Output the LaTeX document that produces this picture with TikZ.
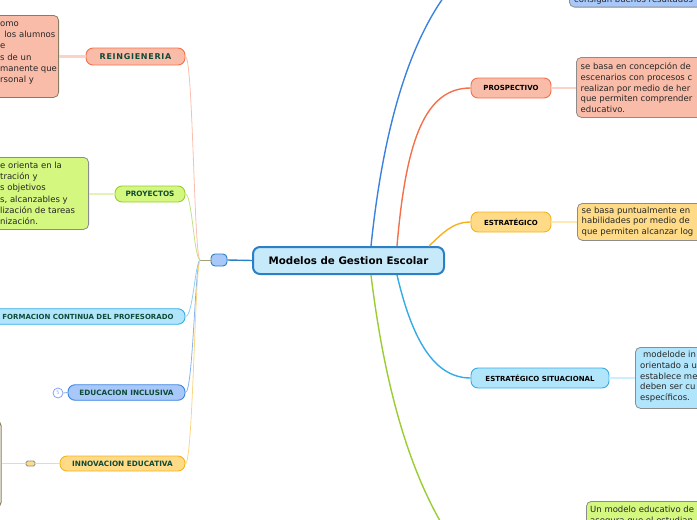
\documentclass[tikz,border=0pt]{standalone}
\usepackage{fontspec}
\setmainfont{DejaVu Sans}
\definecolor{salF}{HTML}{F9BCA9}\definecolor{salB}{HTML}{F4704A}\definecolor{salL}{HTML}{FBD3C6}
\definecolor{grnF}{HTML}{D3F77F}\definecolor{grnB}{HTML}{9ACD32}\definecolor{grnL}{HTML}{E2F3B8}
\definecolor{cyaF}{HTML}{B1E5FB}\definecolor{cyaB}{HTML}{35ABE6}\definecolor{cyaL}{HTML}{CDEFFC}
\definecolor{bluF}{HTML}{A7C8F8}\definecolor{bluB}{HTML}{3B82DE}
\definecolor{yelF}{HTML}{FFDB87}\definecolor{yelB}{HTML}{F7B21B}\definecolor{yelL}{HTML}{FFE9B5}
\definecolor{ctrF}{HTML}{C7EAFB}\definecolor{ctrB}{HTML}{2B7FC5}
\definecolor{boxB}{HTML}{8C8C8C}\definecolor{lblT}{HTML}{0F4A38}
\definecolor{brnB}{HTML}{8C7B55}\definecolor{junc}{HTML}{A0A070}
\begin{document}
\begin{tikzpicture}[x=1pt,y=-1pt,
  lbl/.style={rounded corners=7pt, draw, line width=0.9pt, inner sep=0pt, font=\fontsize{7}{8}\selectfont\bfseries},
  leftlbl/.style={lbl, text=lblT, font=\fontsize{7.3}{8}\selectfont\bfseries},
  rightlbl/.style={lbl, text=black},
  descbox/.style={rounded corners=5pt, draw=boxB, line width=0.8pt, minimum width=200pt, inner sep=0pt},
  desctext/.style={anchor=base west, align=left, inner sep=0pt, text=black!85, font=\fontsize{8.5}{10.8}\selectfont},
  lefttext/.style={desctext, font=\fontsize{8.5}{11.2}\selectfont},
  thin/.style={line width=0.8pt},
  thick/.style={line width=1.4pt},
  link/.style={line width=2.4pt}]
\useasboundingbox (0,0) rectangle (697,520);
\clip (0,0) rectangle (697,520);
% central
\node (ctr) [rounded corners=7pt, draw=ctrB, fill=ctrF, line width=2pt, minimum width=191pt, minimum height=27pt, inner sep=0pt, font=\fontsize{10.3}{12}\selectfont\bfseries] at (348.5,260.5) {Modelos de Gestion Escolar};
\node (pill) [rounded corners=4pt, draw=ctrB, fill=bluF, line width=0.9pt, minimum width=16pt, minimum height=12pt, inner sep=0pt] at (219,260) {};
\coordinate (jn) at (200,260);
% left labels
\node (rein) [leftlbl, draw=salB, fill=salF, minimum width=99pt, minimum height=17pt, font=\fontsize{8}{9}\selectfont\bfseries\addfontfeature{LetterSpace=9}] at (135.5,56.5) {REINGIENERIA};
\node (proy) [leftlbl, draw=grnB, fill=grnF, minimum width=70pt, minimum height=16pt] at (150,194) {PROYECTOS};
\node (form) [leftlbl, draw=cyaB, fill=cyaF, minimum width=194pt, minimum height=15.5pt, font=\fontsize{7}{8}\selectfont\bfseries] at (88,316.5) {FORMACION CONTINUA DEL PROFESORADO};
\node (educ) [leftlbl, draw=bluB, fill=bluF, minimum width=117pt, minimum height=15.5pt] at (126.5,392.5) {EDUCACION INCLUSIVA};
\node (inno) [leftlbl, draw=yelB, fill=yelF, minimum width=125pt, minimum height=15pt] at (122.5,463.5) {INNOVACION EDUCATIVA};
% right labels
\node (pros) [rightlbl, draw=salB, fill=salF, minimum width=80pt, minimum height=20pt] at (511,88) {PROSPECTIVO};
\node (estr) [rightlbl, draw=yelB, fill=yelF, minimum width=80pt, minimum height=20pt] at (511,222) {ESTRATÉGICO};
\node (situ) [rightlbl, draw=cyaB, fill=cyaF, minimum width=138pt, minimum height=20pt] at (540,378) {ESTRATÉGICO SITUACIONAL};
% description boxes, left
\node (reinbox) [descbox, fill=salF, draw=brnB!70!gray, anchor=north east, minimum width=160pt, minimum height=82pt] at (59,15) {};
\node (reintxt) [lefttext, anchor=base west] at (0,26.5) {omo};
\node (reintxtb) [lefttext, anchor=base east] at (55.5,37.7) {los alumnos};
\node (reintxtc) [lefttext] at (0,82.5) {e\\s de un\\manente que\\rsonal y};
\node (proybox) [descbox, fill=grnF, anchor=north east, minimum width=160pt, minimum height=72pt] at (89,157) {};
\node (proytxt) [lefttext] at (0,224.5) {e orienta en la\\tración y\\s objetivos\\s, alcanzables y\\lización de tareas\\nización.};
\node (innobox) [rounded corners=5pt, draw=brnB, line width=1pt, anchor=north east, minimum width=160pt, minimum height=87pt, inner sep=0pt] at (1.5,420) {};
\node (innopill) [rounded corners=1.5pt, draw=boxB, fill=yelF, line width=0.8pt, minimum width=9pt, minimum height=5pt, inner sep=0pt] at (30.5,463.5) {};
\node (educnum) [circle, draw=bluF!80!blue, fill=white, line width=0.8pt, minimum size=10pt, inner sep=0pt, text=bluB!60, font=\fontsize{5}{5}\selectfont] at (58,393) {5};
% description boxes, right
\node (prosbox) [descbox, fill=salF, anchor=north west, minimum height=60pt] at (576,57) {};
\node (prostxt) [desctext] at (580.5,112.7) {se basa en concepción de\\escenarios con procesos c\\realizan por medio de her\\que permiten comprender\\educativo.};
\node (estrbox) [descbox, fill=yelF, anchor=north west, minimum height=37pt] at (577,203) {};
\node (estrtxt) [desctext] at (581.5,234.6) {se basa puntualmente en\\habilidades por medio de\\que permiten alcanzar log};
\node (situbox) [descbox, fill=cyaF, anchor=north west, minimum height=61pt] at (635,347) {};
\node (situtxt) [desctext] at (640,400.7) {\hspace*{3pt}modelode in\\orientado a u\\establece me\\deben ser cu\\específicos.};
\node (topbox) [descbox, fill=bluF, anchor=south west, minimum height=60pt] at (569,7.5) {};
\node (toptxt) [desctext] at (574,2.5) {consigan buenos resultados};
\node (botbox) [descbox, fill=grnF, anchor=north west, minimum height=60pt] at (586,501) {};
\node (bottxt) [desctext] at (590,523.3) {Un modelo educativo de\\asegura que el estudian};
\coordinate (topend) at (446,-6);
\coordinate (botend) at (443,526);
% connectors center
\draw[thick, draw=ctrB] (pill.east) -- (ctr.west);
\draw[thin, draw=junc] (jn) -- (pill.west);
\draw[thin, draw=salB!45] (rein.east) .. controls (193,56.5) and (194,257) .. (jn);
\draw[thin, draw=grnB!60] (proy.east) .. controls (192,194) and (194,258) .. (jn);
\draw[thin, draw=cyaB!55] (form.east) .. controls (193,316.5) and (195,263) .. (jn);
\draw[thin, draw=bluB!60] (educ.east) .. controls (193,392.5) and (195,263) .. (jn);
\draw[thin, draw=yelB!55] (inno.east) .. controls (193,463.5) and (195,264) .. (jn);
\draw[thick, draw=bluB] ([xshift=119pt]ctr.north west) .. controls (382,140) and (405,50) .. (topend);
\draw[thick, draw=salB] ([xshift=145pt]ctr.north west) .. controls (406,140) and (425,88) .. (pros.west);
\draw[thick, draw=yelB] ([xshift=177pt]ctr.north west) .. controls (442,234) and (452,222) .. (estr.west);
\draw[thick, draw=cyaB] ([xshift=145pt]ctr.south west) .. controls (410,330) and (430,378) .. (situ.west);
\draw[thick, draw=grnB] ([xshift=119pt]ctr.south west) .. controls (385,390) and (410,470) .. (botend);
% description links
\draw[link, draw=salL] (reinbox.east |- rein.west) -- (rein.west);
\draw[link, draw=grnL] (proybox.east |- proy.west) -- (proy.west);
\draw[link, draw=salL] (pros.east) -- (prosbox.west |- pros.east);
\draw[link, draw=yelL] (estr.east) -- (estrbox.west |- estr.east);
\draw[link, draw=cyaL] (situ.east) -- (situbox.west |- situ.east);
\draw[thin, draw=bluB!70] (educnum.east) -- (educ.west);
\draw[thin, draw=yelB!50] (innobox.east |- innopill.west) -- (innopill.west);
\draw[thin, draw=yelB!50] (innopill.east) -- (inno.west);
\end{tikzpicture}
\end{document}
